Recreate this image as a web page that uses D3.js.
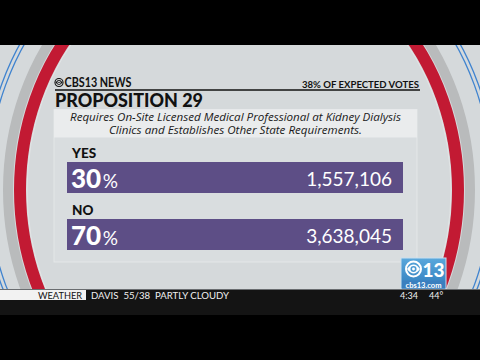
<!DOCTYPE html>
<html><head><meta charset="utf-8">
<script src="https://cdn.jsdelivr.net/npm/d3@7"></script>
<style>html,body{margin:0;padding:0;background:#000;overflow:hidden}</style>
</head><body><svg id="c" width="480" height="360"></svg>
<script>
// ---- data ----
const choices = ["YES", "NO"];
const percents = [30, 70];
const votes = [1557106, 3638045];
const titleText = "PROPOSITION 29";
const subtitleLines = [
  "Requires On-Site Licensed Medical Professional at Kidney Dialysis",
  "Clinics and Establishes Other State Requirements."
];
const reportingText = "38% OF EXPECTED VOTES";
const brandText = "CBS13 NEWS";
const tickerLabel = "WEATHER";
const tickerText = "DAVIS  55/38  PARTLY CLOUDY";
const clockText = "4:34";
const tempText = "44°";

const FONT = "Lato, 'Open Sans', 'DejaVu Sans', sans-serif";
const IFONT = "'Open Sans', 'Noto Sans', 'Liberation Sans', sans-serif";
const svg = d3.select("#c");
const fmt = d3.format(",");

// defs
const defs = svg.append("defs");
const lg = defs.append("linearGradient").attr("id", "logoGrad").attr("x1", 0).attr("y1", 0).attr("x2", 0).attr("y2", 1);
lg.append("stop").attr("offset", "0%").attr("stop-color", "#5aa8dc");
lg.append("stop").attr("offset", "100%").attr("stop-color", "#2f7cbc");

// background
svg.append("rect").attr("width", 480).attr("height", 360).attr("fill", "#d5d9db");

// rings
const rings = svg.append("g");
[[252, 272], [256, 276]].forEach(([rx, ry]) => {
  rings.append("ellipse").attr("cx", 240).attr("cy", 185).attr("rx", rx).attr("ry", ry)
    .attr("fill", "none").attr("stroke", "#3f83cf").attr("stroke-width", 1.3);
});
rings.append("ellipse").attr("cx", 239).attr("cy", 190).attr("rx", 231).attr("ry", 258)
  .attr("fill", "none").attr("stroke", "#b9bbbc").attr("stroke-width", 10);
rings.append("ellipse").attr("cx", 239).attr("cy", 190).attr("rx", 219).attr("ry", 246)
  .attr("fill", "none").attr("stroke", "#c21a33").attr("stroke-width", 12);
rings.append("ellipse").attr("cx", 239).attr("cy", 190).attr("rx", 212).attr("ry", 239)
  .attr("fill", "none").attr("stroke", "#e2e5e6").attr("stroke-width", 1);

// CBS eye helper
function eye(g, cx, cy, r, col, bg) {
  g.append("circle").attr("cx", cx).attr("cy", cy).attr("r", r - r * 0.12)
    .attr("fill", "none").attr("stroke", col).attr("stroke-width", r * 0.24);
  g.append("path").attr("d",
    `M${cx - r * 0.76},${cy} Q${cx},${cy - r * 1.05} ${cx + r * 0.76},${cy} Q${cx},${cy + r * 1.05} ${cx - r * 0.76},${cy}Z`)
    .attr("fill", col);
  g.append("circle").attr("cx", cx).attr("cy", cy).attr("r", r * 0.36).attr("fill", bg);
  g.append("circle").attr("cx", cx).attr("cy", cy).attr("r", r * 0.17).attr("fill", col);
}

// header
const head = svg.append("g");
eye(head, 59, 82.5, 4.6, "#111", "#d5d9db");
head.append("text").attr("x", 64.5).attr("y", 87.3).text(brandText)
  .attr("font-family", FONT).attr("font-weight", 700).attr("font-size", 12.3).attr("fill", "#111")
  .attr("textLength", 67).attr("lengthAdjust", "spacingAndGlyphs");
head.append("text").attr("x", 419).attr("y", 87.5).attr("text-anchor", "end").text(reportingText)
  .attr("font-family", FONT).attr("font-weight", 700).attr("font-size", 9.4).attr("fill", "#111")
  .attr("textLength", 117).attr("lengthAdjust", "spacingAndGlyphs");
head.append("line").attr("x1", 55).attr("x2", 420).attr("y1", 90).attr("y2", 90)
  .attr("stroke", "#111").attr("stroke-width", 1.4);
head.append("text").attr("x", 55).attr("y", 107.2).text(titleText)
  .attr("font-family", FONT).attr("font-weight", 900).attr("font-size", 18.5).attr("fill", "#111")
  .attr("textLength", 148).attr("lengthAdjust", "spacingAndGlyphs");

// panel
svg.append("rect").attr("x", 54).attr("y", 109.5).attr("width", 363).attr("height", 152.5)
  .attr("fill", "#d9dddf").attr("stroke", "#e4e7e8").attr("stroke-width", 1);
svg.append("rect").attr("x", 54).attr("y", 109.5).attr("width", 363).attr("height", 28)
  .attr("fill", "#eaeced");
svg.selectAll("text.sub").data(subtitleLines).join("text").attr("class", "sub")
  .attr("x", 235.5).attr("y", (d, i) => 121 + i * 12.5).attr("text-anchor", "middle")
  .attr("font-family", IFONT).attr("font-style", "italic").attr("font-size", 10.5).attr("fill", "#1a1a1a")
  .attr("textLength", (d, i) => [331, 253][i]).attr("lengthAdjust", "spacingAndGlyphs")
  .text(d => d);

// scales
const y = d3.scaleBand().domain(choices).range([144, 258]);
const x = d3.scaleLinear().domain([0, 100]).range([67, 403]);

const rows = svg.selectAll("g.row").data(choices.map((c, i) => ({ c, p: percents[i], v: votes[i] })))
  .join("g").attr("class", "row").attr("transform", d => `translate(0,${y(d.c)})`);
rows.append("text").attr("x", x(0) + 5).attr("y", 13.8).text(d => d.c)
  .attr("font-family", FONT).attr("font-weight", 900).attr("font-size", 13.5).attr("fill", "#111");
rows.append("rect").attr("x", x(0)).attr("y", 18).attr("width", x(100) - x(0)).attr("height", 31)
  .attr("fill", "#5d4e86");
const pt = rows.append("text").attr("x", x(0) + 4).attr("y", 43.8)
  .attr("font-family", FONT).attr("fill", "#fff");
pt.append("tspan").attr("font-weight", 900).attr("font-size", 26).text(d => d.p);
pt.append("tspan").attr("font-weight", 400).attr("font-size", 19).attr("dx", 1.5).text("%");
rows.append("text").attr("x", x(100) - 11).attr("y", 41.8).attr("text-anchor", "end")
  .attr("font-family", FONT).attr("font-weight", 400).attr("font-size", 19).attr("fill", "#fff")
  .text(d => fmt(d.v));

// station logo
const lo = svg.append("g");
lo.append("rect").attr("x", 401).attr("y", 258).attr("width", 45).attr("height", 31)
  .attr("fill", "url(#logoGrad)").attr("stroke", "#c9dff0").attr("stroke-width", 1);
lo.append("rect").attr("x", 402).attr("y", 280.5).attr("width", 43).attr("height", 8).attr("fill", "#3a7fbf");
eye(lo, 413.5, 269, 8.5, "#fff", "#4c9bd3");
lo.append("text").attr("x", 422.5).attr("y", 276.5).text("13")
  .attr("font-family", FONT).attr("font-weight", 900).attr("font-size", 19).attr("fill", "#fff")
  .attr("textLength", 22).attr("lengthAdjust", "spacingAndGlyphs");
lo.append("text").attr("x", 423.5).attr("y", 287.6).attr("text-anchor", "middle").text("cbs13.com")
  .attr("font-family", FONT).attr("font-weight", 700).attr("font-size", 7).attr("fill", "#fff")
  .attr("textLength", 36).attr("lengthAdjust", "spacingAndGlyphs");

// top band
svg.append("rect").attr("x", 0).attr("y", 0).attr("width", 480).attr("height", 45).attr("fill", "#000");

// ticker
svg.append("rect").attr("x", 0).attr("y", 289).attr("width", 480).attr("height", 26).attr("fill", "#141414");
svg.append("rect").attr("x", 0).attr("y", 315).attr("width", 480).attr("height", 45).attr("fill", "#000");
svg.append("line").attr("x1", 0).attr("x2", 480).attr("y1", 289.5).attr("y2", 289.5).attr("stroke", "#6a6d70").attr("stroke-width", 1);
svg.append("rect").attr("x", 0).attr("y", 290).attr("width", 86).attr("height", 10).attr("fill", "#f2f2f2");
svg.append("text").attr("x", 82).attr("y", 298.6).attr("text-anchor", "end").text(tickerLabel)
  .attr("font-family", FONT).attr("font-weight", 400).attr("font-size", 9).attr("fill", "#111")
  .attr("textLength", 44).attr("lengthAdjust", "spacingAndGlyphs");
svg.append("text").attr("x", 91).attr("y", 298.6).text(tickerText).style("white-space", "pre")
  .attr("font-family", FONT).attr("font-weight", 400).attr("font-size", 9).attr("fill", "#f0f0f0")
  .attr("textLength", 138).attr("lengthAdjust", "spacingAndGlyphs");
svg.append("text").attr("x", 400).attr("y", 298.6).text(clockText)
  .attr("font-family", FONT).attr("font-weight", 400).attr("font-size", 9).attr("fill", "#f0f0f0")
  .attr("textLength", 18).attr("lengthAdjust", "spacingAndGlyphs");
svg.append("text").attr("x", 429).attr("y", 298.6).text(tempText)
  .attr("font-family", FONT).attr("font-weight", 400).attr("font-size", 9).attr("fill", "#f0f0f0");
</script></body></html>
